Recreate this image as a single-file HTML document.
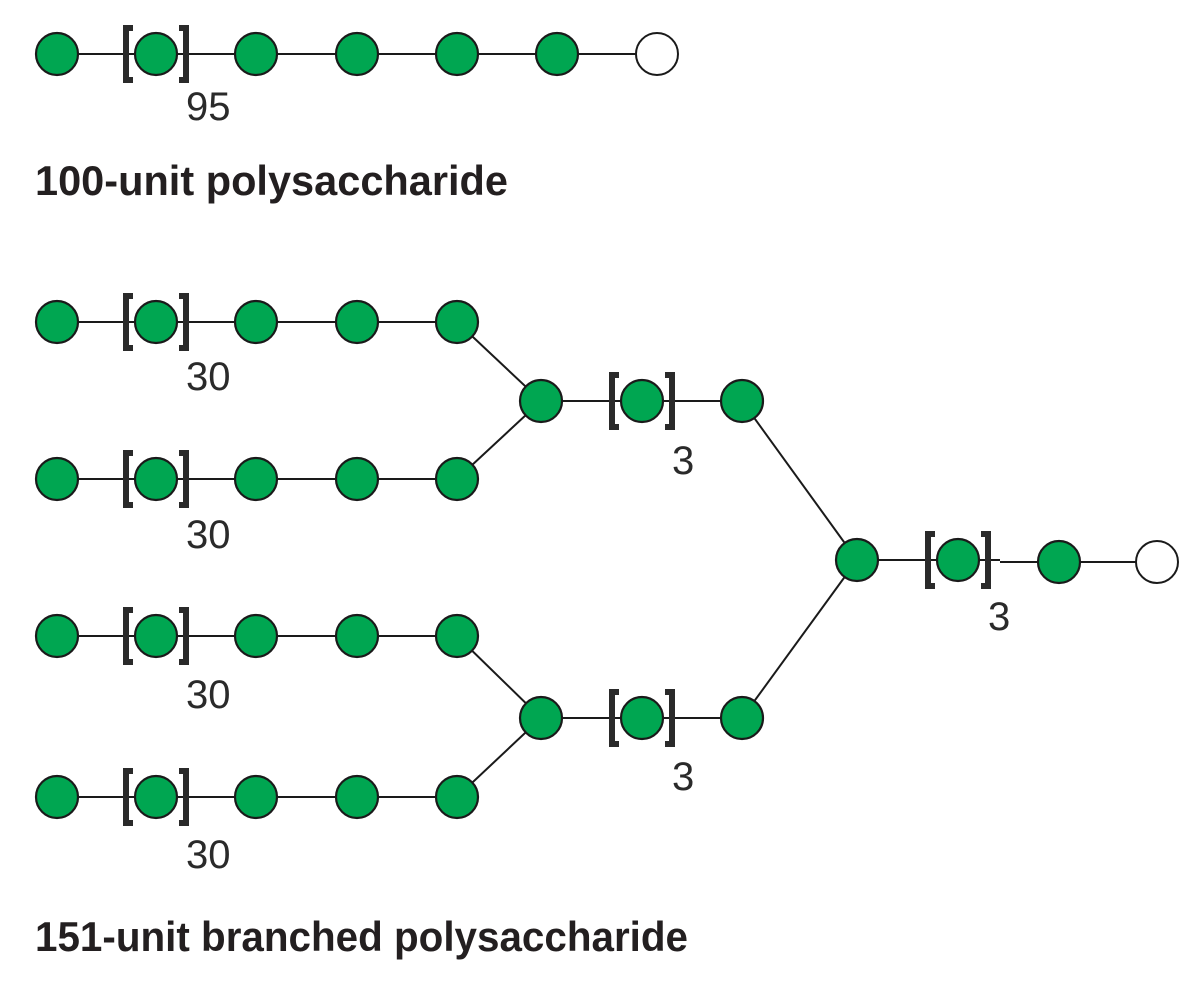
<!DOCTYPE html>
<html><head><meta charset="utf-8"><style>html,body{margin:0;padding:0;background:#fff}svg{display:block}</style></head>
<body>
<svg width="1200" height="985" viewBox="0 0 1200 985" xmlns="http://www.w3.org/2000/svg">
<g stroke="#1a1a1a" stroke-width="2" fill="none">
<line x1="57" y1="54" x2="657" y2="54"/>
<line x1="57" y1="322" x2="457" y2="322"/>
<line x1="57" y1="479" x2="457" y2="479"/>
<line x1="57" y1="636" x2="457" y2="636"/>
<line x1="57" y1="797" x2="457" y2="797"/>
<line x1="457" y1="322" x2="541" y2="401"/>
<line x1="457" y1="479" x2="541" y2="401"/>
<line x1="457" y1="636" x2="541" y2="718"/>
<line x1="457" y1="797" x2="541" y2="718"/>
<line x1="541" y1="401" x2="742" y2="401"/>
<line x1="541" y1="718" x2="742" y2="718"/>
<line x1="742" y1="401" x2="857" y2="560"/>
<line x1="742" y1="718" x2="857" y2="560"/>
<line x1="857" y1="560" x2="1000" y2="560"/>
<line x1="1000" y1="562" x2="1157" y2="562"/>
</g>
<g fill="#00a651" stroke="#1a1a1a" stroke-width="2.2">
<circle cx="57" cy="54" r="21"/><circle cx="156" cy="54" r="21"/><circle cx="256" cy="54" r="21"/><circle cx="357" cy="54" r="21"/><circle cx="457" cy="54" r="21"/><circle cx="557" cy="54" r="21"/>
<circle cx="57" cy="322" r="21"/><circle cx="156" cy="322" r="21"/><circle cx="256" cy="322" r="21"/><circle cx="357" cy="322" r="21"/><circle cx="457" cy="322" r="21"/>
<circle cx="57" cy="479" r="21"/><circle cx="156" cy="479" r="21"/><circle cx="256" cy="479" r="21"/><circle cx="357" cy="479" r="21"/><circle cx="457" cy="479" r="21"/>
<circle cx="57" cy="636" r="21"/><circle cx="156" cy="636" r="21"/><circle cx="256" cy="636" r="21"/><circle cx="357" cy="636" r="21"/><circle cx="457" cy="636" r="21"/>
<circle cx="57" cy="797" r="21"/><circle cx="156" cy="797" r="21"/><circle cx="256" cy="797" r="21"/><circle cx="357" cy="797" r="21"/><circle cx="457" cy="797" r="21"/>
<circle cx="541" cy="401" r="21"/><circle cx="642" cy="401" r="21"/><circle cx="742" cy="401" r="21"/>
<circle cx="541" cy="718" r="21"/><circle cx="642" cy="718" r="21"/><circle cx="742" cy="718" r="21"/>
<circle cx="857" cy="560" r="21"/><circle cx="958" cy="560" r="21"/><circle cx="1059" cy="562" r="21"/>
</g>
<g fill="#fff" stroke="#1a1a1a" stroke-width="2">
<circle cx="657" cy="54" r="21"/><circle cx="1157" cy="562" r="21"/>
</g>
<g stroke="#2a2a2a" stroke-width="6" fill="none">
<path d="M133 28H126V80H133M179 28H186V80H179"/>
<path d="M133 296H126V348H133M179 296H186V348H179"/>
<path d="M133 453H126V505H133M179 453H186V505H179"/>
<path d="M133 610H126V662H133M179 610H186V662H179"/>
<path d="M133 771H126V823H133M179 771H186V823H179"/>
<path d="M619 375H612V427H619M665 375H672V427H665"/>
<path d="M619 692H612V744H619M665 692H672V744H665"/>
<path d="M935 534H928V586H935M981 534H988V586H981"/>
</g>
<g font-family="Liberation Sans, sans-serif" font-size="40" fill="#2a2a2a">
<text x="186" y="120">95</text>
<text x="186" y="390">30</text>
<text x="186" y="548">30</text>
<text x="186" y="708">30</text>
<text x="186" y="868">30</text>
<text x="672" y="474">3</text>
<text x="672" y="790">3</text>
<text x="988" y="630">3</text>
</g>
<g font-family="Liberation Sans, sans-serif" font-weight="bold" font-size="42" fill="#231f20">
<text x="35" y="195" textLength="473" lengthAdjust="spacingAndGlyphs">100-unit polysaccharide</text>
<text x="35" y="951" textLength="653" lengthAdjust="spacingAndGlyphs">151-unit branched polysaccharide</text>
</g>
</svg>
</body></html>
